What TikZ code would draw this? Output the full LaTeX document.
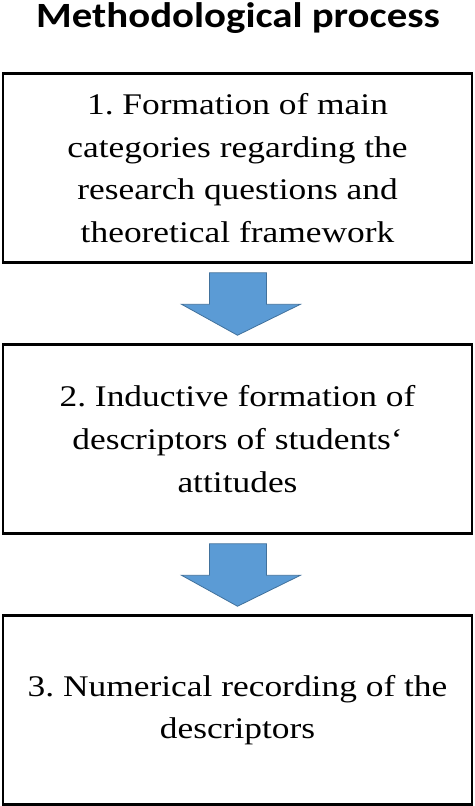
\documentclass[tikz,border=0pt]{standalone}
\usepackage{fontspec}
\setmainfont{Liberation Serif}[FakeStretch=1.18]
\newfontfamily\headfont{Carlito}[FakeStretch=1.15]
\usetikzlibrary{calc}
\frenchspacing

\definecolor{arrowblue}{HTML}{5B9BD5}
\definecolor{arrowedge}{HTML}{41719C}

\tikzset{
  stepbox/.style={draw=black, line width=2.5pt, minimum width=469pt,
    minimum height=189pt, align=center, inner sep=0pt,
    font=\fontsize{30}{42.7}\selectfont},
  blockarrow/.style={fill=arrowblue, draw=arrowedge, line width=0.8pt}
}

\begin{document}
\begin{tikzpicture}[x=1pt, y=-1pt]
  \useasboundingbox (0,0) rectangle (474,806);
  \node[anchor=base, font=\headfont\bfseries\fontsize{35.5}{40}\selectfont]
    (title) at (238,27) {Methodological process};
  \node[stepbox] (box1) at (237.5,168)
    {1. Formation of main\\ categories regarding the\\ research questions and\\ theoretical framework};
  \node[stepbox] (box2) at (237.5,439)
    {2. Inductive formation of\\ descriptors of students‘\\ attitudes};
  \node[stepbox] (box3) at (237.5,710)
    {3. Numerical recording of the\\ descriptors};
  % block arrows between the steps
  \foreach \a/\b in {box1/box2, box2/box3}
    \draw[blockarrow] ($(\a.south)+(-28,9)$) -- ($(\a.south)+(29,9)$)
      -- ($(\b.north)+(29,-39)$) -- ($(\b.north)+(63,-39)$)
      -- ($(\b.north)+(0,-8)$) -- ($(\b.north)+(-56,-39)$)
      -- ($(\b.north)+(-28,-39)$) -- cycle;
\end{tikzpicture}
\end{document}
